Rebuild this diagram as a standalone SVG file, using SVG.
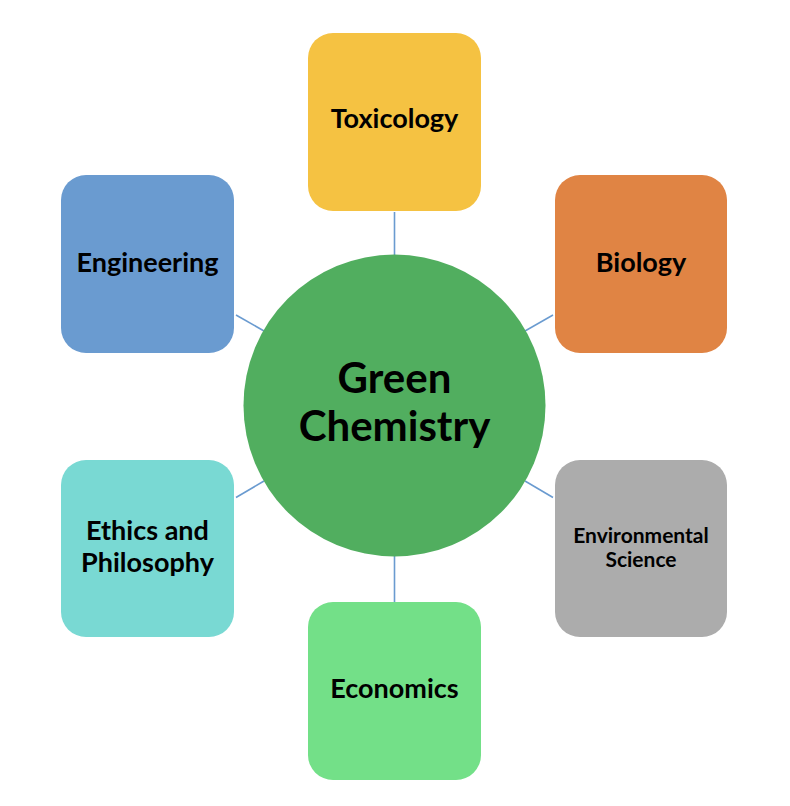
<svg xmlns="http://www.w3.org/2000/svg" width="790" height="806" viewBox="0 0 790 806">
<style>
.lbl{font-family:Lato,"Liberation Sans",sans-serif;font-weight:bold;font-size:27px;fill:#000;text-anchor:middle}
.sm{font-size:21px}
.big{font-size:42px}
.conn line{stroke:#6A9BD0;stroke-width:1.6}
</style>
<rect width="790" height="806" fill="#fff"/>
<g id="connectors" class="conn">
<line x1="394.5" y1="212" x2="394.5" y2="255"/>
<line x1="236" y1="315" x2="264" y2="331"/>
<line x1="553" y1="315" x2="525" y2="331"/>
<line x1="236" y1="497.5" x2="264" y2="481"/>
<line x1="553" y1="497.5" x2="525" y2="481"/>
<line x1="394.5" y1="556" x2="394.5" y2="602"/>
</g>
<g id="toxicology"><rect x="308" y="33" width="173" height="178" rx="25" fill="#F5C242"/><text class="lbl" x="394.5" y="128">Toxicology</text></g>
<g id="engineering"><rect x="61" y="175" width="173" height="178" rx="25" fill="#6A9BD0"/><text class="lbl" x="147.5" y="272">Engineering</text></g>
<g id="biology"><rect x="555" y="175" width="172" height="178" rx="25" fill="#E08444"/><text class="lbl" x="641" y="272">Biology</text></g>
<g id="ethics"><rect x="61" y="460" width="173" height="177" rx="25" fill="#79D9D3"/><text class="lbl" x="147.5" y="540">Ethics and</text><text class="lbl" x="147.5" y="572">Philosophy</text></g>
<g id="environmental"><rect x="555" y="460" width="172" height="177" rx="25" fill="#ACACAC"/><text class="lbl sm" x="641" y="543">Environmental</text><text class="lbl sm" x="641" y="567">Science</text></g>
<g id="economics"><rect x="308" y="602" width="173" height="178" rx="25" fill="#73E088"/><text class="lbl" x="394.5" y="698">Economics</text></g>
<g id="green-chemistry"><circle cx="394.5" cy="405.5" r="151" fill="#51AE5F"/><text class="lbl big" x="394.5" y="393">Green</text><text class="lbl big" x="394.5" y="441">Chemistry</text></g>
</svg>
